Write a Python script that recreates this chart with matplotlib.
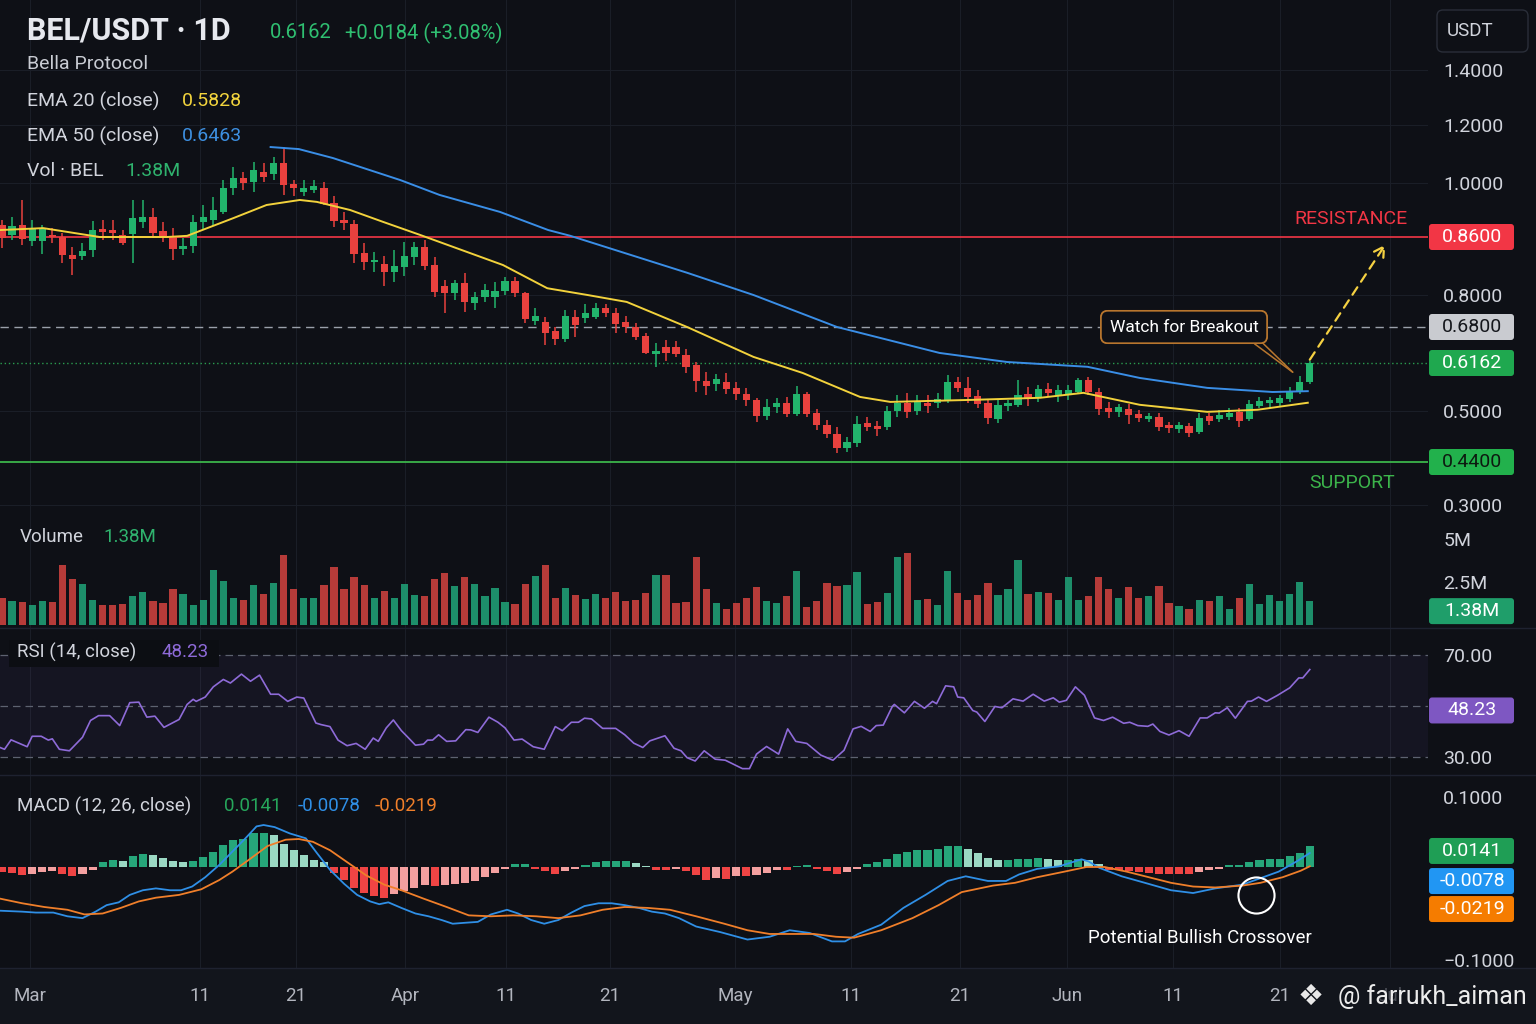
import numpy as np
import matplotlib
matplotlib.use("Agg")
import matplotlib.pyplot as plt
from matplotlib.patches import FancyBboxPatch, Rectangle
from matplotlib.transforms import IdentityTransform

plt.rcParams['font.family'] = ['Roboto', 'DejaVu Sans']

# ---- data ----
opens = [0.891, 0.865, 0.891, 0.856, 0.856, 0.865, 0.860, 0.841, 0.840, 0.847,
         0.881, 0.878, 0.865, 0.868, 0.899, 0.912, 0.876, 0.863, 0.848, 0.851,
         0.899, 0.904, 0.925, 0.987, 1.017, 1.003, 1.038, 1.031, 1.069, 0.997,
         0.977, 0.982, 0.987, 0.948, 0.904, 0.894, 0.843, 0.834, 0.832, 0.824,
         0.829, 0.839, 0.850, 0.831, 0.809, 0.802, 0.812, 0.770, 0.793, 0.793,
         0.804, 0.815, 0.802, 0.703, 0.699, 0.673, 0.659, 0.718, 0.714, 0.718,
         0.751, 0.733, 0.699, 0.680, 0.664, 0.632, 0.645, 0.645, 0.630, 0.611,
         0.573, 0.565, 0.570, 0.556, 0.541, 0.527, 0.494, 0.510, 0.520, 0.496,
         0.541, 0.498, 0.484, 0.473, 0.456, 0.462, 0.486, 0.482, 0.481, 0.500,
         0.520, 0.500, 0.520, 0.520, 0.527, 0.570, 0.556, 0.537, 0.520, 0.491,
         0.512, 0.515, 0.541, 0.532, 0.553, 0.539, 0.539, 0.546, 0.575, 0.546,
         0.507, 0.499, 0.505, 0.496, 0.491, 0.493, 0.484, 0.479, 0.482, 0.475,
         0.494, 0.491, 0.493, 0.499, 0.491, 0.512, 0.520, 0.520, 0.529, 0.546,
         0.570]
highs = [0.904, 0.912, 0.956, 0.904, 0.891, 0.883, 0.870, 0.850, 0.854, 0.901,
         0.904, 0.904, 0.878, 0.956, 0.956, 0.935, 0.899, 0.883, 0.859, 0.917,
         0.943, 0.964, 1.010, 1.055, 1.038, 1.072, 1.069, 1.090, 1.124, 1.010,
         1.010, 1.010, 1.003, 0.966, 0.925, 0.904, 0.854, 0.844, 0.840, 0.847,
         0.855, 0.855, 0.857, 0.839, 0.816, 0.816, 0.823, 0.803, 0.811, 0.813,
         0.819, 0.819, 0.803, 0.751, 0.718, 0.680, 0.744, 0.744, 0.766, 0.770,
         0.766, 0.751, 0.721, 0.695, 0.669, 0.652, 0.657, 0.655, 0.641, 0.618,
         0.594, 0.590, 0.592, 0.570, 0.556, 0.532, 0.529, 0.532, 0.534, 0.561,
         0.546, 0.505, 0.489, 0.481, 0.469, 0.494, 0.493, 0.488, 0.512, 0.539,
         0.544, 0.539, 0.539, 0.544, 0.587, 0.582, 0.582, 0.551, 0.527, 0.527,
         0.527, 0.575, 0.558, 0.563, 0.568, 0.563, 0.563, 0.580, 0.582, 0.556,
         0.522, 0.517, 0.517, 0.503, 0.498, 0.498, 0.487, 0.487, 0.486, 0.498,
         0.498, 0.503, 0.507, 0.507, 0.527, 0.534, 0.534, 0.539, 0.558, 0.585,
         0.620]
lows = [0.849, 0.857, 0.852, 0.851, 0.842, 0.854, 0.833, 0.821, 0.836, 0.839,
        0.857, 0.857, 0.852, 0.833, 0.883, 0.859, 0.855, 0.836, 0.841, 0.843,
        0.878, 0.889, 0.920, 0.969, 0.982, 0.977, 1.003, 1.010, 0.969, 0.966,
        0.966, 0.974, 0.943, 0.886, 0.878, 0.833, 0.826, 0.824, 0.809, 0.813,
        0.820, 0.831, 0.826, 0.793, 0.733, 0.781, 0.736, 0.744, 0.774, 0.751,
        0.800, 0.793, 0.695, 0.688, 0.648, 0.648, 0.653, 0.662, 0.695, 0.710,
        0.718, 0.669, 0.669, 0.657, 0.632, 0.607, 0.620, 0.627, 0.592, 0.546,
        0.539, 0.548, 0.541, 0.527, 0.512, 0.487, 0.489, 0.498, 0.493, 0.494,
        0.493, 0.478, 0.468, 0.451, 0.452, 0.458, 0.476, 0.471, 0.478, 0.493,
        0.492, 0.495, 0.498, 0.507, 0.520, 0.546, 0.520, 0.507, 0.485, 0.486,
        0.500, 0.510, 0.512, 0.522, 0.534, 0.522, 0.527, 0.544, 0.539, 0.495,
        0.492, 0.493, 0.485, 0.487, 0.487, 0.476, 0.474, 0.474, 0.469, 0.473,
        0.484, 0.487, 0.489, 0.481, 0.488, 0.507, 0.507, 0.510, 0.522, 0.541,
        0.565]
closes = [0.859, 0.889, 0.858, 0.881, 0.881, 0.860, 0.841, 0.837, 0.846, 0.878,
          0.873, 0.870, 0.854, 0.909, 0.912, 0.870, 0.859, 0.848, 0.851, 0.899,
          0.912, 0.930, 0.987, 1.017, 1.000, 1.045, 1.021, 1.069, 0.995, 0.987,
          0.987, 0.992, 0.946, 0.901, 0.896, 0.842, 0.834, 0.836, 0.824, 0.830,
          0.840, 0.850, 0.830, 0.803, 0.802, 0.812, 0.774, 0.793, 0.805, 0.804,
          0.815, 0.802, 0.710, 0.721, 0.669, 0.659, 0.721, 0.688, 0.733, 0.751,
          0.733, 0.691, 0.680, 0.662, 0.634, 0.637, 0.634, 0.632, 0.607, 0.573,
          0.561, 0.578, 0.553, 0.541, 0.527, 0.494, 0.510, 0.520, 0.496, 0.541,
          0.496, 0.484, 0.473, 0.456, 0.464, 0.485, 0.481, 0.479, 0.500, 0.520,
          0.499, 0.522, 0.512, 0.529, 0.570, 0.556, 0.534, 0.517, 0.492, 0.515,
          0.520, 0.539, 0.529, 0.553, 0.544, 0.551, 0.551, 0.575, 0.546, 0.505,
          0.499, 0.510, 0.495, 0.492, 0.494, 0.481, 0.480, 0.484, 0.474, 0.492,
          0.488, 0.495, 0.498, 0.488, 0.517, 0.524, 0.527, 0.532, 0.546, 0.570,
          0.6162]

volume_m = [1.6, 1.4, 1.35, 1.15, 1.4, 1.35, 3.5, 2.7, 2.4, 1.45,
            1.15, 1.15, 1.2, 1.7, 1.9, 1.4, 1.3, 2.1, 1.8, 1.15,
            1.45, 3.2, 2.55, 1.6, 1.45, 2.3, 1.8, 2.45, 4.05, 2.1,
            1.55, 1.55, 2.3, 3.35, 2.1, 2.8, 2.3, 1.55, 2.0, 1.55,
            2.4, 1.75, 1.7, 2.7, 3.0, 2.25, 2.8, 2.4, 1.7, 2.15,
            1.35, 1.25, 2.4, 2.85, 3.5, 1.6, 2.15, 1.75, 1.5, 1.8,
            1.55, 1.9, 1.4, 1.45, 1.85, 2.9, 2.9, 1.3, 1.35, 3.95,
            2.1, 1.3, 0.95, 1.3, 1.6, 2.2, 1.4, 1.3, 1.7, 3.15,
            1.05, 1.4, 2.45, 2.25, 2.3, 3.1, 1.2, 1.35, 1.85, 3.95,
            4.2, 1.45, 1.5, 1.15, 3.15, 1.85, 1.45, 1.75, 2.45, 1.75,
            2.1, 3.8, 1.8, 1.9, 1.85, 1.45, 2.8, 1.45, 1.7, 2.8,
            2.1, 1.55, 2.2, 1.6, 1.7, 2.25, 1.3, 1.1, 0.95, 1.45,
            1.4, 1.7, 0.95, 1.55, 2.4, 1.2, 1.75, 1.4, 1.8, 2.5,
            1.38]

ema20_x = [-0.2, 4.1, 9.7, 16.4, 18.4, 23.0, 26.3, 29.6, 31.3, 34.6, 37.9, 41.6, 49.8, 54.2,
           58.2, 62.1, 68.1, 74.7, 79.6, 85.3, 88.3, 96.5, 103.2, 107.5, 113.1, 119.8, 124.8, 129.8]
ema20 = [0.878, 0.883, 0.860, 0.860, 0.863, 0.909, 0.943, 0.956, 0.951, 0.930, 0.899, 0.865, 0.831, 0.807,
         0.800, 0.774, 0.680, 0.627, 0.592, 0.534, 0.522, 0.527, 0.532, 0.544, 0.515, 0.499, 0.503, 0.520]
ema50_x = [26.7, 29.5, 32.9, 39.6, 43.5, 49.5, 54.3, 56.5, 68.1, 74.7, 83.0, 93.2, 99.9, 107.9, 113.1,
           119.8, 126.3, 129.8]
ema50 = [1.124, 1.117, 1.086, 1.010, 0.969, 0.925, 0.878, 0.863, 0.823, 0.800, 0.680, 0.634, 0.618, 0.607,
         0.580, 0.556, 0.546, 0.548]

rsi_x = [-0.2, 0.25, 0.9, 2.5, 3.0, 3.9, 4.6, 5.0, 5.7, 6.7, 8.0, 8.8, 9.6, 10.7, 11.7, 12.7, 13.6, 14.4,
         15.2, 16.1, 17.6, 18.4, 19.0, 19.3, 20.2, 21.0, 22.0, 22.7, 23.8, 24.7, 25.6, 26.7, 27.5, 28.4,
         29.3, 30.0, 31.2, 31.7, 32.6, 33.4, 34.3, 35.2, 36.1, 36.9, 37.4, 38.2, 38.9, 39.7, 40.2, 41.1,
         41.9, 42.3, 42.8, 43.4, 44.2, 45.1, 46.1, 46.6, 47.3, 48.4, 49.3, 50.0, 50.9, 51.7, 52.8, 53.9,
         55.0, 55.7, 56.6, 57.3, 57.9, 58.6, 59.7, 61.0, 61.9, 62.8, 63.7, 64.4, 65.9, 66.8, 67.5,
         68.1, 68.9, 69.8, 70.9, 71.9, 73.6, 74.3, 75.0, 76.0, 77.2, 78.1, 78.9, 80.0, 81.4, 82.6, 83.7,
         84.6, 85.4, 86.3, 86.9, 87.6, 88.5, 88.7, 89.7, 90.7, 91.7, 92.5, 92.9, 93.8, 94.6, 95.0, 95.6,
         96.5, 96.9, 97.7, 98.7, 99.4, 100.5, 101.5, 102.5, 103.6, 104.5, 105.1, 105.8, 106.7, 107.6,
         108.6, 109.5, 110.4, 111.5, 112.1, 112.9, 113.9, 114.4, 115.1, 116.0, 117.0, 118.0, 119.1,
         119.8, 120.6, 121.0, 121.8, 122.6, 123.8, 124.2, 124.9, 125.7, 126.8, 128.0, 128.9, 129.3, 130.0]
rsi = [33.7, 33.0, 36.7, 34.0, 38.1, 38.1, 36.6, 37.1, 33.0, 32.4, 37.7, 44.3, 46.2, 46.2, 42.3, 51.3, 51.5, 45.6,
       46.0, 41.6, 44.7, 50.6, 52.6, 51.8, 53.5, 57.5, 60.4, 59.0, 62.5, 59.7, 62.1, 54.6, 54.6, 51.8,
       53.5, 53.1, 43.3, 42.7, 41.9, 36.6, 34.4, 35.3, 33.0, 37.4, 36.1, 41.4, 44.5, 40.3, 38.3, 34.6,
       35.0, 36.6, 36.6, 38.7, 36.1, 36.3, 40.7, 40.6, 39.6, 45.6, 43.6, 41.4, 36.6, 37.0, 34.0, 33.0,
       41.9, 40.3, 43.6, 43.6, 45.2, 44.9, 41.2, 41.2, 38.7, 35.4, 33.7, 36.3, 38.3, 33.4, 32.4,
       29.7, 28.4, 32.4, 29.1, 28.7, 25.4, 25.4, 31.1, 34.1, 31.1, 41.0, 36.1, 35.3, 30.7, 28.7, 32.6,
       41.0, 42.0, 40.0, 42.3, 42.5, 49.8, 50.6, 47.3, 51.8, 49.1, 51.8, 50.9, 57.9, 57.5, 53.5, 53.2,
       48.2, 47.6, 43.9, 49.8, 49.3, 52.8, 51.9, 54.6, 51.9, 53.2, 51.5, 52.2, 57.5, 54.2,
       45.3, 44.3, 45.6, 43.2, 43.6, 42.3, 42.0, 42.9, 40.0, 38.6, 40.3, 38.1, 45.3,
       45.3, 47.3, 47.2, 49.3, 45.2, 51.8, 51.9, 53.5, 51.8, 54.2, 57.1, 61.0, 61.0, 64.3]

macd_hist = [-0.0054, -0.0065, -0.0086, -0.0075, -0.0054, -0.0043, -0.0075, -0.0097, -0.0075, -0.0032,
             0.0071, 0.0100, 0.0086, 0.0157, 0.0186, 0.0171, 0.0129, 0.0086, 0.0071, 0.0086,
             0.0143, 0.0214, 0.0314, 0.0386, 0.0400, 0.0486, 0.0486, 0.0457, 0.0329, 0.0243,
             0.0171, 0.0100, 0.0071, -0.0065, -0.0140, -0.0226, -0.0280, -0.0312, -0.0333, -0.0290,
             -0.0258, -0.0226, -0.0194, -0.0204, -0.0194, -0.0183, -0.0172, -0.0151, -0.0108, -0.0065,
             -0.0022, 0.0043, 0.0043, -0.0022, -0.0043, -0.0075, -0.0043, -0.0022, 0.0029, 0.0071,
             0.0086, 0.0086, 0.0086, 0.0057, 0.0014, -0.0032, -0.0032, -0.0022, -0.0043, -0.0086,
             -0.0140, -0.0118, -0.0129, -0.0097, -0.0097, -0.0086, -0.0065, -0.0032, -0.0032, 0.0014,
             0.0029, -0.0022, -0.0043, -0.0075, -0.0054, -0.0022, 0.0043, 0.0071, 0.0114, 0.0186,
             0.0214, 0.0243, 0.0243, 0.0257, 0.0300, 0.0300, 0.0257, 0.0200, 0.0129, 0.0100,
             0.0100, 0.0114, 0.0114, 0.0129, 0.0114, 0.0100, 0.0100, 0.0114, 0.0100, 0.0043,
             -0.0032, -0.0032, -0.0043, -0.0054, -0.0065, -0.0075, -0.0075, -0.0075, -0.0075, -0.0054,
             -0.0032, -0.0022, 0.0029, 0.0029, 0.0071, 0.0100, 0.0114, 0.0114, 0.0157, 0.0200,
             0.0300]
macd_x = [-0.2, 2.0, 3.35, 5.1, 6.5, 8.0, 9.3, 10.4, 11.6, 12.7, 14.0, 15.3, 16.7, 17.8, 18.9, 20.2,
          21.6, 22.9, 24.2, 25.3, 26.0, 27.1, 28.6, 30.2, 31.3, 32.6, 34.0, 35.3, 36.6, 37.5, 38.4,
          39.7, 41.1, 42.4, 43.7, 44.8, 46.0, 47.3, 48.6, 50.2, 51.3, 52.6, 53.9, 55.3, 56.6, 57.9,
          59.3, 60.6, 61.9, 63.3, 64.6, 65.9, 67.3, 69.0, 71.4, 74.1, 76.3, 78.3, 80.3, 82.5, 83.8,
          85.1, 87.4, 89.6, 91.8, 94.0, 95.8, 98.0, 99.8, 101.1, 102.9, 105.1, 107.3, 108.0, 109.1,
          111.3, 113.6, 116.2, 118.4, 120.6, 123.3, 125.1, 126.9, 128.7, 130.0]
macd_line = [-0.047, -0.048, -0.049, -0.049, -0.053, -0.055, -0.048, -0.041, -0.038, -0.030, -0.025, -0.023,
             -0.025, -0.025, -0.021, -0.011, 0.003, 0.022, 0.041, 0.058, 0.060, 0.057, 0.048, 0.041, 0.020,
             -0.003, -0.018, -0.030, -0.037, -0.040, -0.038, -0.044, -0.050, -0.053, -0.057, -0.061,
             -0.060, -0.059, -0.051, -0.046, -0.050, -0.057, -0.061, -0.057, -0.049, -0.042, -0.039,
             -0.039, -0.041, -0.044, -0.048, -0.050, -0.055, -0.064, -0.070, -0.078, -0.075, -0.068,
             -0.071, -0.080, -0.080, -0.072, -0.062, -0.044, -0.030, -0.015, -0.010, -0.015, -0.015,
             -0.008, -0.002, 0.001, 0.011, 0.008, -0.001, -0.010, -0.017, -0.025, -0.028, -0.023,
             -0.019, -0.012, -0.005, 0.008, 0.020]
signal_x = [-0.2, 2.0, 4.2, 6.5, 8.2, 10.0, 11.8, 13.6, 15.3, 17.6, 19.8, 21.6, 22.9, 24.7, 26.4, 28.2,
            29.5, 30.9, 32.6, 34.4, 36.2, 38.0, 39.7, 41.9, 44.2, 46.4, 48.6, 50.8, 53.1, 55.3, 57.5,
            59.7, 61.9, 64.2, 66.4, 69.0, 71.8, 74.1, 76.3, 78.5, 80.7, 82.9, 84.7, 87.4, 90.5, 93.1,
            95.4, 98.5, 100.7, 102.9, 105.6, 107.8, 109.6, 111.8, 114.0, 116.2, 118.4, 120.6, 123.3,
            125.1, 127.3, 129.1, 130.0]
signal_line = [-0.034, -0.039, -0.043, -0.046, -0.051, -0.050, -0.044, -0.037, -0.033, -0.030, -0.024,
               -0.014, -0.005, 0.012, 0.030, 0.039, 0.040, 0.036, 0.024, 0.006, -0.009, -0.019, -0.025,
               -0.034, -0.043, -0.052, -0.053, -0.052, -0.053, -0.055, -0.052, -0.046, -0.043, -0.044,
               -0.046, -0.053, -0.061, -0.068, -0.072, -0.072, -0.072, -0.075, -0.076, -0.068, -0.055,
               -0.041, -0.027, -0.020, -0.017, -0.011, -0.005, 0.000, 0.000, -0.005, -0.011, -0.017,
               -0.021, -0.022, -0.020, -0.017, -0.011, -0.004, 0.001]

date_ticks = [2.78, 19.68, 29.2, 40.06, 50.1, 60.4, 72.9, 84.4, 95.2, 105.9, 116.4, 127.0, 138.0]
date_labels = ["Mar", "11", "21", "Apr", "11", "21", "May", "11", "21", "Jun", "11", "21", "Jul"]

price_ticks = [0.3, 0.5, 0.8, 1.0, 1.2, 1.4]
resistance = 0.86
breakout = 0.68
last_price = 0.6162
support = 0.44

# ---- style ----
BG = "#0e1016"
GRID = "#1a1e27"
TXT = "#d1d4dc"
UP = "#22b46c"
DOWN = "#e8413e"
W, H = 1536, 1024
PR = 1428  # right edge of plotting area, px

fig = plt.figure(figsize=(W / 100, H / 100), dpi=100, facecolor=BG)


def fx(x):
    return x / W


def fy(y):
    return 1 - y / H


def panel(top, bottom):
    ax = fig.add_axes([0, 1 - bottom / H, PR / W, (bottom - top) / H])
    ax.set_facecolor(BG)
    for s in ax.spines.values():
        s.set_visible(False)
    ax.set_xlim(-0.2, 141.75)
    ax.yaxis.tick_right()
    ax.tick_params(axis="both", length=0, labelsize=14, labelcolor=TXT, pad=11)
    ax.set_xticks(date_ticks)
    ax.set_xticklabels([])
    for t in date_ticks:
        ax.axvline(t, color=GRID, lw=0.8, zorder=0)
    return ax


def piecewise(vals, px):
    v = np.asarray(vals, float)
    h = -np.asarray(px, float)
    return (lambda a: np.interp(a, v, h)), (lambda b: np.interp(b, h, v))


x = np.arange(len(closes))
o = np.array(opens)
c = np.array(closes)
up = c >= o
cols = np.where(up, UP, DOWN)

# bottom date strip
fig.add_artist(Rectangle((0, 0), 1, 56 / H, transform=fig.transFigure, fc="#12151c", ec="none", zorder=0))

# ---- price panel ----
ax = panel(0, 520)
ax.set_yscale("function", functions=piecewise(
    [0.251, 0.3, 0.44, 0.5, 0.6162, 0.68, 0.8, 0.86, 1.0, 1.2, 1.4, 1.655],
    [520, 505, 462, 411, 363, 327, 295, 237, 183, 125, 70, 0]))
ax.set_ylim(0.251, 1.655)
ax.set_yticks(price_ticks)
ax.set_yticklabels(["%.4f" % t for t in price_ticks])
ax.yaxis.set_minor_locator(matplotlib.ticker.NullLocator())
for t in price_ticks:
    ax.axhline(t, color=GRID, lw=0.8, zorder=0)

ax.axhline(resistance, color="#f23645", lw=1.2, zorder=2)
ax.axhline(breakout, color="#9aa0aa", lw=1.0, ls=(0, (6, 4)), zorder=2)
ax.axhline(last_price, color="#2a9d4f", lw=1.0, ls=(0, (1, 2)), zorder=2)
ax.axhline(support, color="#3cb44b", lw=1.3, zorder=2)

ax.vlines(x, lows, highs, colors=cols, lw=1.1, zorder=3)
ax.bar(x, np.abs(c - o), bottom=np.minimum(o, c), width=0.72, color=cols, zorder=4)
ax.plot(ema20_x, ema20, color="#f2d23c", lw=1.4, zorder=5)
ax.plot(ema50_x, ema50, color="#3a8ee6", lw=1.4, zorder=5)

ax.annotate("", xy=(137.5, 0.852), xytext=(130.0, 0.622),
            arrowprops=dict(arrowstyle="->,head_length=0.7,head_width=0.4", color="#f5d142",
                            lw=1.6, linestyle=(0, (4, 3)), shrinkA=0, shrinkB=0), zorder=6)
for rp in [(0.89, 0.0), (0.97, 0.0)]:
    ax.annotate("Watch for Breakout", xy=(128.3, 0.594), xytext=(1184, H - 327),
                textcoords="figure pixels", ha="center", va="center", fontsize=12.5, color="white",
                bbox=dict(boxstyle="round,pad=0.5,rounding_size=0.4", fc=BG, ec="#b8762e", lw=1.2),
                arrowprops=dict(arrowstyle="-", color="#b8762e", lw=1.1, relpos=rp, shrinkA=0, shrinkB=0),
                zorder=7)

# ---- volume panel ----
axv = panel(520, 628)
axv.set_ylim(-0.17, 6.1)
axv.bar(x, volume_m, width=0.72, color=np.where(up, "#1f9d74", "#c9403d"), alpha=0.9, zorder=3)
axv.set_yticks([2.5, 5])
axv.set_yticklabels(["2.5M", "5M"])

# ---- RSI panel ----
axr = panel(628, 775)
axr.set_ylim(22.9, 80.6)
axr.axhspan(30, 70, color="#7e57c2", alpha=0.07, lw=0, zorder=0)
for lvl in (70, 50, 30):
    axr.axhline(lvl, color="#5d6270", lw=0.9, ls=(0, (6, 4)), zorder=1)
axr.plot(rsi_x, rsi, color="#8e6bd8", lw=1.2, zorder=3)
axr.set_yticks([30, 70])
axr.set_yticklabels(["30.00", "70.00"])

# ---- MACD panel ----
axm = panel(775, 968)
axm.set_yscale("function", functions=piecewise(
    [-0.1086, -0.1, 0.0, 0.1, 0.1314], [968, 960, 867, 797, 775]))
axm.set_ylim(-0.1086, 0.1314)
axm.yaxis.set_minor_locator(matplotlib.ticker.NullLocator())
h = np.array(macd_hist)
prev = np.concatenate([[h[0]], h[:-1]])
hcols = np.where(h >= 0, np.where(h >= prev, "#26a67a", "#9bd8c3"),
                 np.where(h <= prev, "#ef4444", "#f4a0a0"))
axm.bar(x, h, width=0.8, color=hcols, zorder=3)
axm.plot(macd_x, macd_line, color="#2f8fe6", lw=1.3, zorder=4)
axm.plot(signal_x, signal_line, color="#f07f2a", lw=1.3, zorder=4)
axm.plot([124.7], [-0.030], marker="o", ms=26, mfc="none", mec="white", mew=1.5, zorder=5)
axm.set_yticks([-0.1, 0.1])
axm.set_yticklabels(["\u22120.1000", "0.1000"])
axm.set_xticklabels(date_labels)
axm.tick_params(axis="x", pad=14, labelsize=13.5, labelcolor="#b2b5be")
# the "Jul" label sits under the watermark in the original
axm.get_xticklabels()[-1].set_alpha(0.35)

for yy in (628, 775, 968):
    fig.add_artist(plt.Line2D([0, 1], [fy(yy), fy(yy)], transform=fig.transFigure, color="#1e2230", lw=1))


# ---- right-axis value tags ----
def tag(a, yval, label, fc, tc):
    y = a.transData.transform((0, yval))[1]
    fig.add_artist(FancyBboxPatch((1429, y - 13), 85, 26, boxstyle="round,pad=0,rounding_size=3",
                                  fc=fc, ec="none", transform=IdentityTransform()))
    fig.text(fx(1472), y / H, label, ha="center", va="center", fontsize=14, color=tc)


tag(ax, resistance, "0.8600", "#f23645", "white")
tag(ax, breakout, "0.6800", "#c9cbd0", "#15171c")
tag(ax, last_price, "0.6162", "#1fa84f", "white")
tag(ax, support, "0.4400", "#22b14c", "#0d1a10")
tag(axv, 0.81, "1.38M", "#1f9e6a", "white")
tag(axr, 48.23, "48.23", "#7e57c2", "white")
tag(axm, 0.0229, "0.0141", "#1f9e55", "white")
tag(axm, -0.0151, "-0.0078", "#2196f3", "white")
tag(axm, -0.0452, "-0.0219", "#f57c00", "white")

# USDT selector
fig.add_artist(FancyBboxPatch((1437, H - 52), 91, 42, boxstyle="round,pad=0,rounding_size=6",
                              fc=BG, ec="#2a2e39", lw=1, transform=IdentityTransform()))
fig.text(fx(1447), fy(31), "USDT", fontsize=13.5, color=TXT, va="center")

# ---- header and legend texts ----
fig.text(fx(27), fy(31), "BEL/USDT \u00b7 1D", fontsize=22, weight="bold", color="#e6e8ee", va="center")
fig.text(fx(270), fy(33), "0.6162", fontsize=14.5, color="#2fbf71", va="center")
fig.text(fx(345), fy(33), "+0.0184 (+3.08%)", fontsize=14.5, color="#2fbf71", va="center")
fig.text(fx(27), fy(64), "Bella Protocol", fontsize=14, color="#c9ccd3", va="center")
fig.text(fx(27), fy(101), "EMA 20 (close)", fontsize=14, color=TXT, va="center")
fig.text(fx(182), fy(101), "0.5828", fontsize=14, color="#f2d43d", va="center")
fig.text(fx(27), fy(136), "EMA 50 (close)", fontsize=14, color=TXT, va="center")
fig.text(fx(182), fy(136), "0.6463", fontsize=14, color="#3d8fe0", va="center")
fig.text(fx(27), fy(171), "Vol \u00b7 BEL", fontsize=14, color=TXT, va="center")
fig.text(fx(125), fy(171), "1.38M", fontsize=14, color="#2fb36e", va="center")

fig.text(fx(1408), fy(219), "RESISTANCE", fontsize=14, color="#f23645", va="center", ha="right")
fig.text(fx(1395), fy(483), "SUPPORT", fontsize=14, color="#3cb44b", va="center", ha="right")

fig.text(fx(20), fy(537), "Volume", fontsize=13.5, color=TXT, va="center")
fig.text(fx(103), fy(537), "1.38M", fontsize=13.5, color="#2fb36e", va="center")

fig.add_artist(Rectangle((fx(9), fy(667)), fx(210), 27 / H, transform=fig.transFigure,
                         fc="#0c0e13", ec="none", zorder=2))
fig.text(fx(17), fy(652), "RSI (14, close)", fontsize=13.5, color=TXT, va="center", zorder=3)
fig.text(fx(162), fy(652), "48.23", fontsize=13.5, color="#8e6ad8", va="center", zorder=3)

fig.text(fx(17), fy(806), "MACD (12, 26, close)", fontsize=13.5, color=TXT, va="center")
fig.text(fx(224), fy(806), "0.0141", fontsize=13.5, color="#26a65b", va="center")
fig.text(fx(298), fy(806), "-0.0078", fontsize=13.5, color="#2f8fe6", va="center")
fig.text(fx(375), fy(806), "-0.0219", fontsize=13.5, color="#f07f2a", va="center")

fig.text(fx(1200), fy(938), "Potential Bullish Crossover", fontsize=13.5, color="white", va="center", ha="center")

# watermark
fig.text(fx(1311), fy(997), "\u2756", fontsize=21, color="#e8e8e8", va="center", ha="center",
         family="DejaVu Sans", zorder=5)
fig.text(fx(1338), fy(997), "@ farrukh_aiman", fontsize=18, color="#ececec", va="center", zorder=5)

fig.savefig("out.png", dpi=100, facecolor=BG)
